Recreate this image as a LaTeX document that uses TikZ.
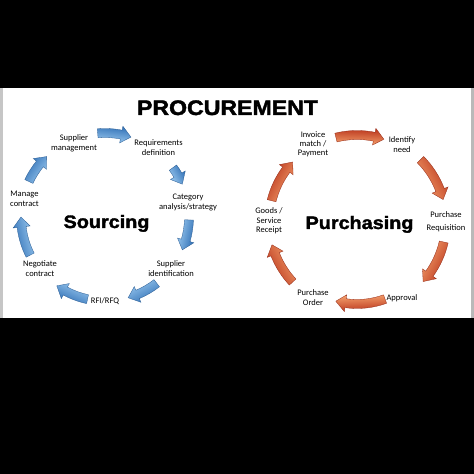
\documentclass[tikz,border=0pt]{standalone}
\usepackage{fontspec}
\setmainfont{Carlito}
\newfontfamily\heavyfont[FakeStretch=1.1,BoldFeatures={FakeBold=2}]{Liberation Sans}
\definecolor{bluedark}{HTML}{2F6FB5}
\definecolor{bluelight}{HTML}{9CCAF0}
\definecolor{orgdark}{HTML}{B8321A}
\definecolor{orglight}{HTML}{F6A36E}
\tikzset{
  lbl/.style={align=center,font=\fontsize{8.5}{10}\selectfont,inner sep=0pt},
  big/.style={font=\heavyfont\bfseries\fontsize{18}{18}\selectfont,anchor=base,inner sep=0pt},
}
\newcommand\cycarrow[5]{%
  \pgfmathsetmacro\hA{#2+10/#3*57.3}%
  \pgfmathsetmacro\rO{#3+4.5}%
  \pgfmathsetmacro\rI{#3-4.5}%
  \pgfmathsetmacro\rHO{#3+8.5}%
  \pgfmathsetmacro\rHI{#3-8.5}%
  \pgfmathsetmacro\sA{(#1+#2)/2-90}%
  \shade[shading=axis,top color=#4,bottom color=#5,shading angle=\sA,draw=#4!80!black,line width=0.3pt]
    (#1:\rO) arc[start angle=#1,end angle=\hA,radius=\rO] -- (\hA:\rHO) -- (#2:#3) -- (\hA:\rHI) -- (\hA:\rI)
    arc[start angle=\hA,end angle=#1,radius=\rI] -- cycle;
}
\begin{document}
\begin{tikzpicture}[x=1pt,y=1pt]
\useasboundingbox (0,0) rectangle (474,474);
\fill[black] (0,0) rectangle (474,474);
\fill[white] (0,156) rectangle (474,386.3);
\fill[gray!45] (0,156) rectangle (2.5,386.3);
\fill[gray!55] (471,156) rectangle (473.5,386.3);

\node[font=\heavyfont\bfseries\fontsize{21}{21}\selectfont,anchor=base,inner sep=0pt] (title) at (227.5,359) {PROCUREMENT};

% Sourcing
\node[big] (sourcing) at (106.5,246) {Sourcing};
\node[lbl] (sm) at (74,331) {Supplier\\management};
\node[lbl] (rd) at (158.5,326) {Requirements\\definition};
\node[lbl] (cas) at (188,272) {Category\\analysis/strategy};
\node[lbl] (si) at (171,205) {Supplier\\identification};
\node[lbl] (rfi) at (105,173) {RFI/RFQ};
\node[lbl] (nc) at (40,205) {Negotiate\\contract};
\node[lbl] (mc) at (24.5,275) {Manage\\contract};

\begin{scope}[shift={(105,257)}]
\cycarrow{95}{72}{84}{bluedark}{bluelight}
\cycarrow{36}{23}{84}{bluedark}{bluelight}
\cycarrow{-2}{-23}{84}{bluedark}{bluelight}
\cycarrow{-52}{-74}{84}{bluedark}{bluelight}
\cycarrow{-102}{-125}{84}{bluedark}{bluelight}
\cycarrow{207}{180}{84}{bluedark}{bluelight}
\cycarrow{155}{134}{84}{bluedark}{bluelight}
\end{scope}

% Purchasing
\node[big] (purchasing) at (359.5,245) {Purchasing};
\node[lbl,font=\fontsize{8.5}{9}\selectfont] (imp) at (313,330) {Invoice\\match /\\Payment};
\node[lbl] (idn) at (402,329.5) {Identify\\need};
\node[lbl,font=\fontsize{8.5}{13}\selectfont] (pr) at (446,252.5) {Purchase\\Requisition};
\node[lbl] (ap) at (402,176) {Approval};
\node[lbl] (po) at (313,176.5) {Purchase\\Order};
\node[lbl,font=\fontsize{8.5}{9.5}\selectfont] (gsr) at (269,253) {Goods /\\Service\\Receipt};

\begin{scope}[shift={(357,252)}]
\cycarrow{104}{72}{87}{orgdark}{orglight}
\cycarrow{44.5}{14.6}{89}{orgdark}{orglight}
\cycarrow{-13}{-42}{89}{orgdark}{orglight}
\cycarrow{-70}{-105}{82}{orgdark}{orglight}
\cycarrow{223}{195}{88}{orgdark}{orglight}
\cycarrow{166}{137}{88}{orgdark}{orglight}
\end{scope}
\end{tikzpicture}
\end{document}
